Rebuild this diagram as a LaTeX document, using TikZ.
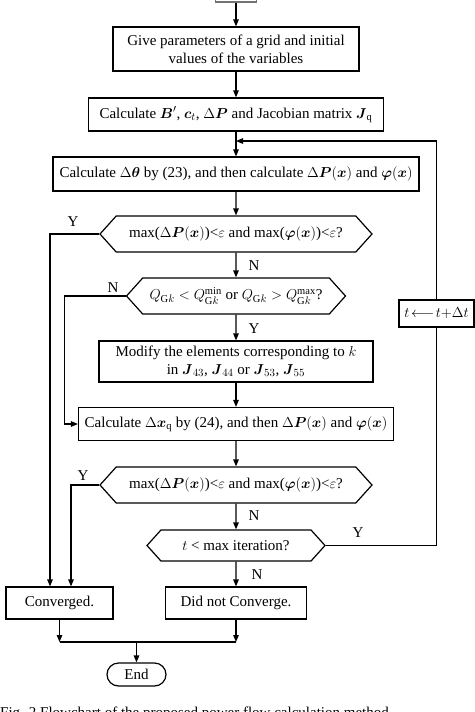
\documentclass[tikz,border=0pt]{standalone}
\usepackage{fontspec}
\setmainfont{Liberation Serif}
\usepackage{amsmath}
\usepackage{amssymb}
\usetikzlibrary{arrows.meta, calc, shapes.symbols}

\begin{document}
\begin{tikzpicture}[%
    x=1pt, y=-1pt,
    font=\fontsize{15}{18}\selectfont,
    process/.style={
      draw,
      line width=1.2pt,
      rectangle,
      align=center,
      inner sep=2pt
    },
    decision/.style={
      draw,
      line width=1.2pt,
      signal,
      signal to=west and east,
      signal pointer angle=96,
      inner sep=1pt
    },
    flow/.style={
      line width=1.2pt,
      -{Triangle[length=7pt,width=5.5pt]}
    },
    yn/.style={inner sep=0pt}]
    \useasboundingbox (0,0) rectangle (474,712);

    \node[process,draw=black!55,minimum width=41,minimum height=24] at (236,-10) (0) {};
    \node[process,minimum width=246,minimum height=44] at (236,49) (1)
        {Give parameters of a grid and initial\\values of the variables};
    \node[process,minimum width=295,minimum height=33] at (236,114.5) (2)
        {Calculate $\boldsymbol{B}'$, $\boldsymbol{c}_t$, $\Delta\boldsymbol{P}$ and Jacobian matrix $\boldsymbol{J}_{\mathrm{q}}$};
    \node[process,minimum width=366,minimum height=34] at (236,174) (3)
        {Calculate $\Delta\boldsymbol{\theta}$ by (23), and then calculate $\Delta\boldsymbol{P}(\boldsymbol{x})$ and $\boldsymbol{\varphi}(\boldsymbol{x})$};
    \node[decision,minimum width=272,minimum height=36] at (236,234) (4)
        {max($\Delta\boldsymbol{P}(\boldsymbol{x})$)<$\varepsilon$ and max($\boldsymbol{\varphi}(\boldsymbol{x})$)<$\varepsilon$?};
    \node[decision,minimum width=219,minimum height=36] at (236,296) (5)
        {$Q_{\mathrm{G}k}<Q_{\mathrm{G}k}^{\min}$ or $Q_{\mathrm{G}k}>Q_{\mathrm{G}k}^{\max}$?};
    \node[process,minimum width=274,minimum height=41] at (236,361.5) (6)
        {Modify the elements corresponding to $k$\\in $\boldsymbol{J}_{43}$, $\boldsymbol{J}_{44}$ or $\boldsymbol{J}_{53}$, $\boldsymbol{J}_{55}$};
    \node[process,minimum width=315,minimum height=33] at (236,424) (7)
        {Calculate $\Delta\boldsymbol{x}_{\mathrm{q}}$ by (24), and then $\Delta\boldsymbol{P}(\boldsymbol{x})$ and $\boldsymbol{\varphi}(\boldsymbol{x})$};
    \node[decision,minimum width=272,minimum height=36] at (236,485) (8)
        {max($\Delta\boldsymbol{P}(\boldsymbol{x})$)<$\varepsilon$ and max($\boldsymbol{\varphi}(\boldsymbol{x})$)<$\varepsilon$?};
    \node[decision,minimum width=178,minimum height=31] at (236,545.5) (9)
        {$t$ < max iteration?};
    \node[process,minimum width=75,minimum height=27] at (436.5,313.5) (10)
        {$t\!\longleftarrow\! t{+}\Delta t$};
    \node[process,minimum width=107,minimum height=32] at (59.5,603) (11) {Converged.};
    \node[process,minimum width=141,minimum height=32] at (236,603) (12) {Did not Converge.};
    \node[process,rounded corners=11.5,minimum width=59,minimum height=23] at (136.5,674.5) (13) {End};
    \node[anchor=base west,inner sep=0pt] at (0,717) (14)
        {Fig. 2 Flowchart of the proposed power flow calculation method};

    \coordinate (m) at ($(2.south)!0.38!(3.north)$);
    \coordinate (j) at (136.5,642);

    % main column
    \draw[flow] (0) -- (1);
    \draw[flow] (1) -- (2);
    \draw[flow] (2) -- (3);
    \draw[flow] (3) -- (4);
    \draw[flow] (4) -- (5);
    \draw[flow] (5) -- (6);
    \draw[flow] (6) -- (7);
    \draw[flow] (7) -- (8);
    \draw[flow] (8) -- (9);
    \draw[flow] (9) -- (12);

    % side branches
    \draw[flow] (4.west) -| ([xshift=-9.5]11.north);
    \draw[flow] (8.west) -| ([xshift=11.5]11.north);
    \draw[flow] (5.west) -- ++(-61,0) |- (7.west);
    \draw[line width=1.2pt] (9.east) -| (10.south);
    \draw[flow] (10.north) |- (m);

    % to the end
    \draw[flow] (11.south) -- (11.south |- j);
    \draw[flow] (12.south) -- (12.south |- j);
    \draw[line width=1.2pt] (11.south |- j) -- (12.south |- j);
    \draw[flow] (j) -- (13);

    \node[yn] at (73,222) (y1) {Y};
    \node[yn] at (254,266) (n1) {N};
    \node[yn] at (113,288) (n2) {N};
    \node[yn] at (254,329) (y2) {Y};
    \node[yn] at (83,476) (y3) {Y};
    \node[yn] at (254,516) (n3) {N};
    \node[yn] at (358,533) (y4) {Y};
    \node[yn] at (257,575) (n4) {N};
\end{tikzpicture}
\end{document}
